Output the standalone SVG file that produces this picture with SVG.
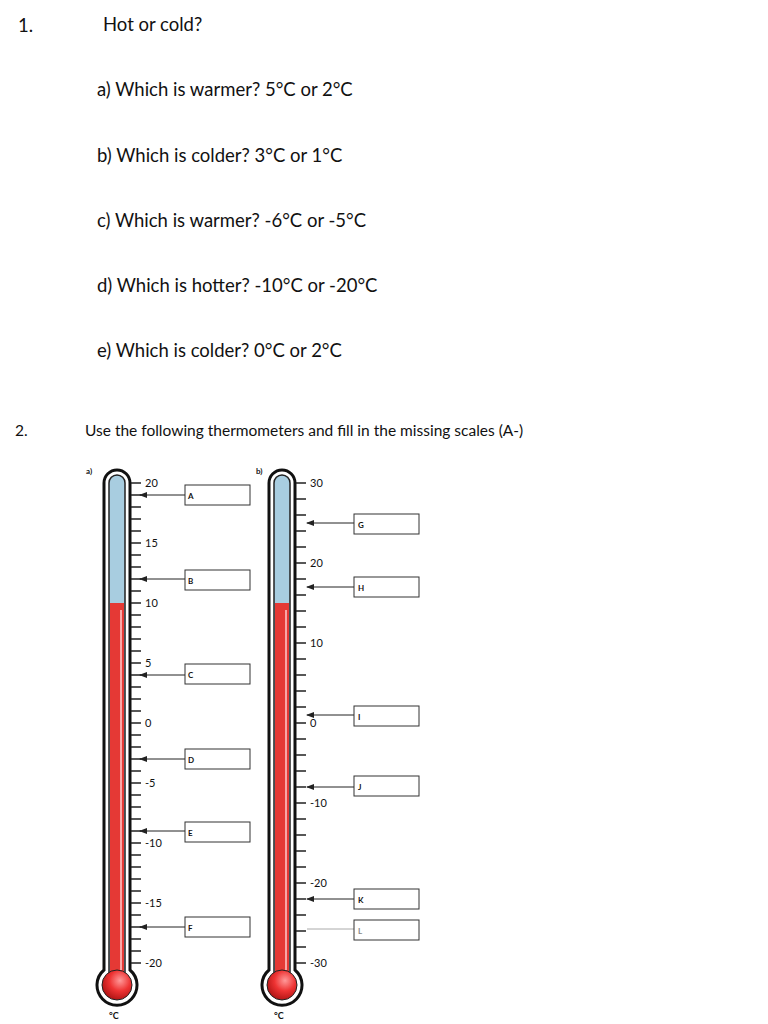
<svg xmlns="http://www.w3.org/2000/svg" width="768" height="1024" viewBox="0 0 768 1024">
<style>
text{font-family:Lato,"Liberation Sans",sans-serif;fill:#111}
.q{font-size:18.5px}
.s{font-size:11px}
.l{font-size:8px;font-weight:bold}
.tk{stroke:#222;stroke-width:1.3}
.box{fill:#fff;stroke:#333;stroke-width:1}
.ar{stroke:#222;stroke-width:1;marker-end:url(#ah)}
</style>
<defs>
<marker id="ah" markerWidth="8" markerHeight="6" refX="7" refY="3" orient="auto" markerUnits="userSpaceOnUse"><path d="M0,0 L8,3 L0,6 z" fill="#222"/></marker>
<radialGradient id="bg" cx="0.6" cy="0.35" r="0.7"><stop offset="0" stop-color="#f99"/><stop offset="0.5" stop-color="#e33"/><stop offset="1" stop-color="#a11"/></radialGradient>
<g id="therm">
<path d="M-13,483 a13,13 0 0 1 26,0 V970 a20,20 0 1 1 -26,0 z" fill="#fff" stroke="#111" stroke-width="3"/>
<path d="M-8,483 a8,8 0 0 1 16,0 V975 h-16 z" fill="#a8cde0" stroke="#222" stroke-width="1.5"/>
</g>
</defs>
<text class="q" x="18" y="32">1.</text>
<text class="q" x="103" y="31">Hot or cold?</text>
<text class="q" x="97" y="96">a) Which is warmer? 5°C or 2°C</text>
<text class="q" x="97" y="162">b) Which is colder? 3°C or 1°C</text>
<text class="q" x="97" y="227">c) Which is warmer? -6°C or -5°C</text>
<text class="q" x="97" y="292">d) Which is hotter? -10°C or -20°C</text>
<text class="q" x="97" y="357">e) Which is colder? 0°C or 2°C</text>
<text x="15" y="436" style="font-size:15.5px">2.</text>
<text x="85" y="436" style="font-size:15.5px">Use the following thermometers and fill in the missing scales (A-)</text>

<g id="thermo-a">
<text class="l" x="86" y="474">a)</text>
<use href="#therm" x="117" y="0"/>
<rect x="110" y="603" width="14" height="375" fill="#e53935"/>
<circle cx="117" cy="985" r="15" fill="url(#bg)" stroke="#222" stroke-width="1"/>
<line x1="121" y1="610" x2="121" y2="970" stroke="#fcc" stroke-width="1.5"/>
<path class="tk" d="M131,483h10M131,495h10M131,507h10M131,519h10M131,531h10M131,543h10M131,555h10M131,567h10M131,579h10M131,591h10M131,603h10M131,615h10M131,627h10M131,639h10M131,651h10M131,663h10M131,675h10M131,687h10M131,699h10M131,711h10M131,723h10M131,735h10M131,747h10M131,759h10M131,771h10M131,783h10M131,795h10M131,807h10M131,819h10M131,831h10M131,843h10M131,855h10M131,867h10M131,879h10M131,891h10M131,903h10M131,915h10M131,927h10M131,939h10M131,951h10M131,963h10"/>
<g class="s"><text x="145" y="487">20</text><text x="145" y="547">15</text><text x="145" y="607">10</text><text x="145" y="667">5</text><text x="145" y="727">0</text><text x="145" y="787">-5</text><text x="145" y="847">-10</text><text x="145" y="907">-15</text><text x="145" y="967">-20</text></g>
<text x="109" y="1019" style="font-size:9px;font-weight:bold">°C</text>
</g>

<g id="thermo-b">
<text class="l" x="256" y="474">b)</text>
<use href="#therm" x="282" y="0"/>
<rect x="275" y="603" width="14" height="375" fill="#e53935"/>
<circle cx="282" cy="985" r="15" fill="url(#bg)" stroke="#222" stroke-width="1"/>
<line x1="286" y1="610" x2="286" y2="970" stroke="#fcc" stroke-width="1.5"/>
<path class="tk" d="M296,483h10M296,499h10M296,515h10M296,531h10M296,547h10M296,563h10M296,579h10M296,595h10M296,611h10M296,627h10M296,643h10M296,659h10M296,675h10M296,691h10M296,707h10M296,723h10M296,739h10M296,755h10M296,771h10M296,787h10M296,803h10M296,819h10M296,835h10M296,851h10M296,867h10M296,883h10M296,899h10M296,915h10M296,931h10M296,947h10M296,963h10"/>
<g class="s"><text x="310" y="487">30</text><text x="310" y="567">20</text><text x="310" y="647">10</text><text x="310" y="727">0</text><text x="310" y="807">-10</text><text x="310" y="887">-20</text><text x="310" y="967">-30</text></g>
<text x="274" y="1019" style="font-size:9px;font-weight:bold">°C</text>
</g>

<g id="connectors">
<line class="ar" x1="185" y1="495" x2="140" y2="495"/>
<line class="ar" x1="185" y1="579" x2="140" y2="579"/>
<line class="ar" x1="185" y1="675" x2="140" y2="675"/>
<line class="ar" x1="185" y1="759" x2="140" y2="759"/>
<line class="ar" x1="185" y1="831" x2="140" y2="831"/>
<line class="ar" x1="185" y1="927" x2="140" y2="927"/>
<line class="ar" x1="355" y1="523" x2="307" y2="523"/>
<line class="ar" x1="355" y1="587" x2="307" y2="587"/>
<line class="ar" x1="355" y1="715" x2="307" y2="715"/>
<line class="ar" x1="355" y1="787" x2="307" y2="787"/>
<line class="ar" x1="355" y1="899" x2="307" y2="899"/>
<line x1="355" y1="929" x2="307" y2="929" stroke="#aaa" stroke-width="1"/>
</g>

<g id="box-A"><rect class="box" x="185" y="485" width="65" height="20"/><text class="l" x="188" y="499">A</text></g>
<g id="box-B"><rect class="box" x="185" y="570" width="65" height="20"/><text class="l" x="188" y="584">B</text></g>
<g id="box-C"><rect class="box" x="185" y="664" width="65" height="20"/><text class="l" x="188" y="678">C</text></g>
<g id="box-D"><rect class="box" x="185" y="749" width="65" height="20"/><text class="l" x="188" y="763">D</text></g>
<g id="box-E"><rect class="box" x="185" y="822" width="65" height="20"/><text class="l" x="188" y="836">E</text></g>
<g id="box-F"><rect class="box" x="185" y="917" width="65" height="20"/><text class="l" x="188" y="931">F</text></g>
<g id="box-G"><rect class="box" x="354" y="514" width="65" height="20"/><text class="l" x="358" y="528">G</text></g>
<g id="box-H"><rect class="box" x="354" y="577" width="65" height="20"/><text class="l" x="358" y="591">H</text></g>
<g id="box-I"><rect class="box" x="354" y="706" width="65" height="20"/><text class="l" x="358" y="720">I</text></g>
<g id="box-J"><rect class="box" x="354" y="776" width="65" height="20"/><text class="l" x="358" y="790">J</text></g>
<g id="box-K"><rect class="box" x="354" y="889" width="65" height="20"/><text class="l" x="358" y="903">K</text></g>
<g id="box-L"><rect class="box" x="354" y="920" width="65" height="20" stroke="#888"/><text class="l" x="358" y="934" style="fill:#888">L</text></g>
</svg>
